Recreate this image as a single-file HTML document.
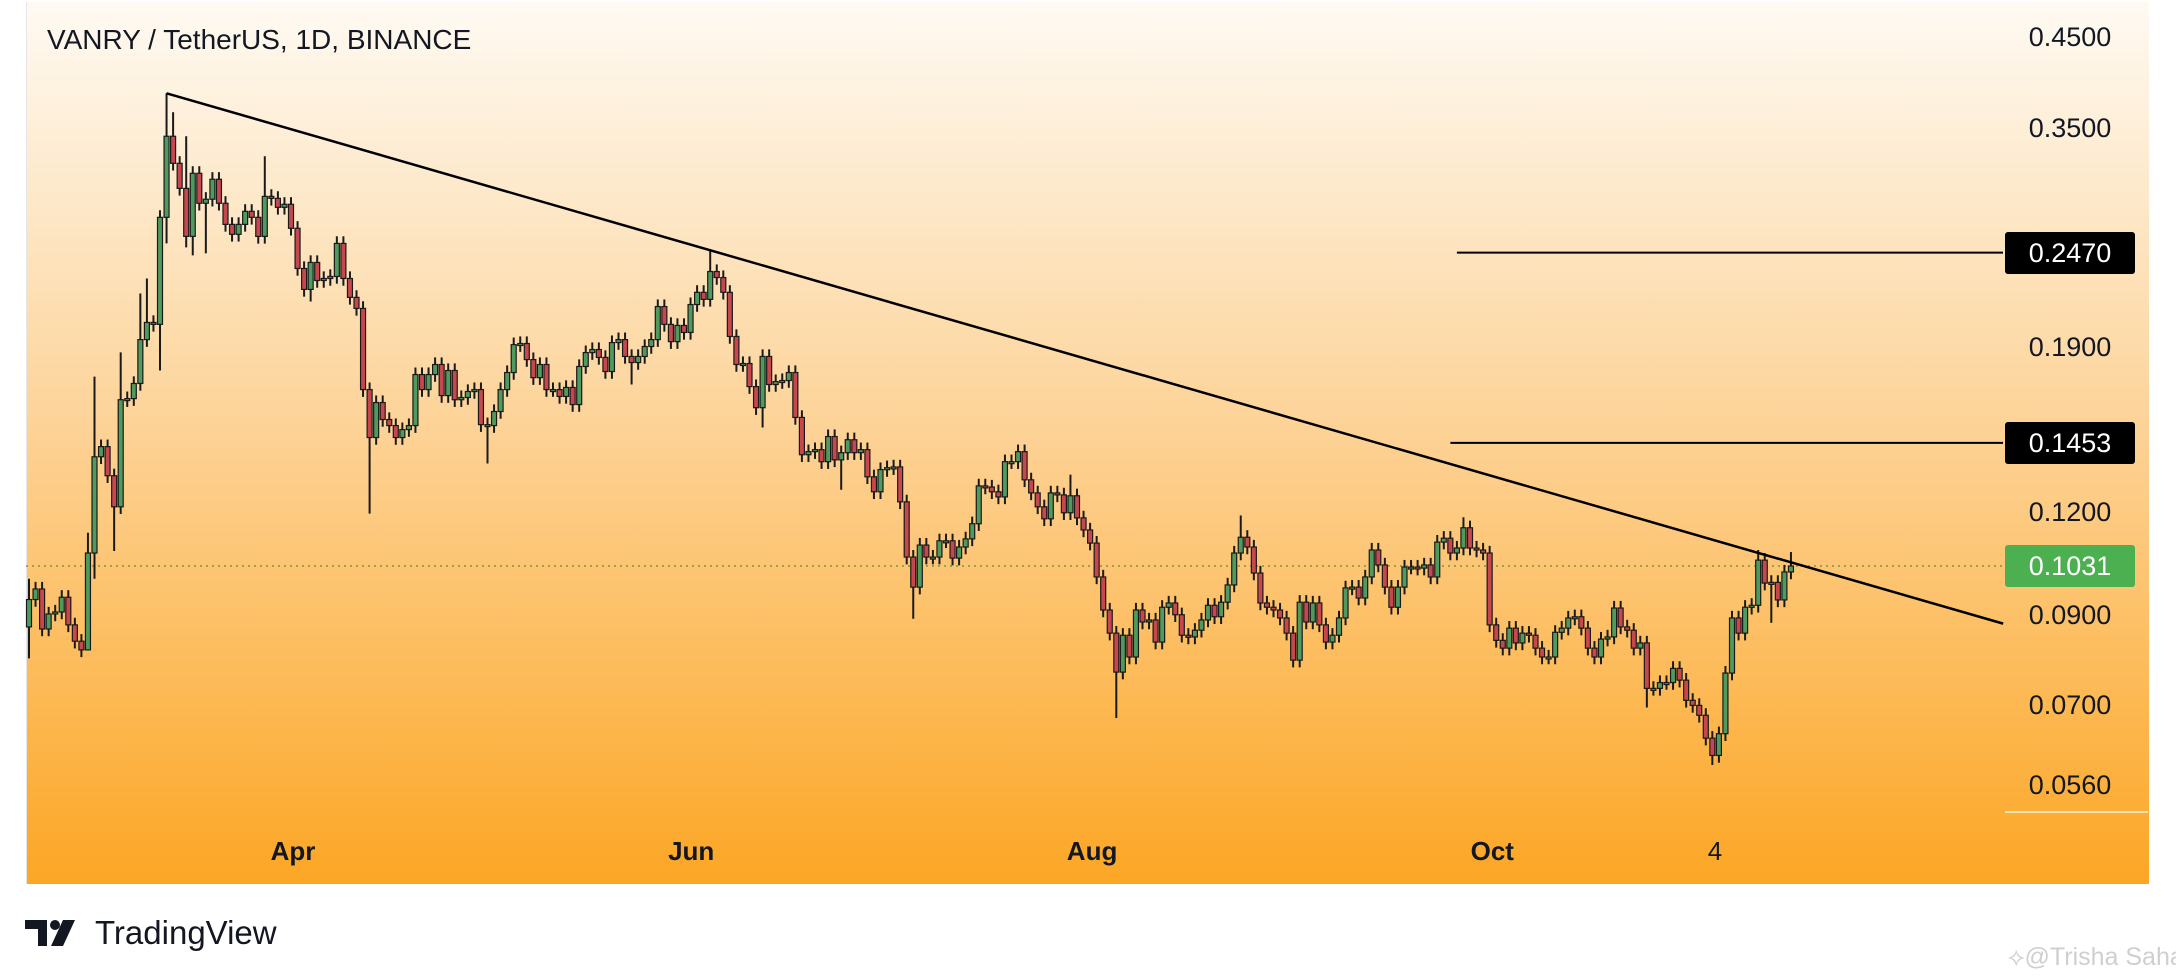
<!DOCTYPE html>
<html><head><meta charset="utf-8">
<style>
html,body{margin:0;padding:0;background:#fff;}
body{width:2176px;height:979px;position:relative;overflow:hidden;font-family:"Liberation Sans",sans-serif;}
#chart-bg{position:absolute;left:26px;top:2px;width:2122px;height:882px;background:linear-gradient(to bottom,#fefaf3 0%,#fde6c4 25%,#fdd193 50%,#fdbc5c 75%,#fca624 100%);border-left:1px solid #e6e6e6;}
svg{position:absolute;left:0;top:0;}
.title{position:absolute;left:47px;top:24px;font-size:28px;color:#131722;}
.plabel{position:absolute;left:2005px;width:130px;height:42px;line-height:42px;text-align:center;font-size:27px;color:#131722;}
.tlabel{position:absolute;top:836px;font-size:26px;font-weight:bold;color:#131722;transform:translateX(-50%);}
.logo{position:absolute;left:25px;top:914px;display:flex;align-items:center;gap:14px;font-size:33px;color:#131722;}
.wm{position:absolute;left:2008px;top:943px;font-size:25px;color:#cfcfcf;white-space:nowrap;}
</style></head>
<body>
<div id="chart-bg"></div>
<svg id="plot" width="2176" height="979"></svg>
<div class="title">VANRY / TetherUS, 1D, BINANCE</div>
<div id="labels"></div>
<div class="logo">
<svg width="56" height="26" viewBox="0 0 56 26" style="position:static"><path d="M0 0h22v26h-9V9H0z" fill="#131722"/><circle cx="30" cy="5" r="5" fill="#131722"/><path d="M38 0h12L38 26H26z" fill="#131722"/></svg>
<span>TradingView</span></div>
<div class="wm">⟡@Trisha Saha</div>
<script>
const closes=[0.0939,0.0967,0.0865,0.0902,0.0907,0.0945,0.0875,0.0836,0.0816,0.1069,
0.1398,0.1438,0.1326,0.1216,0.1639,0.1644,0.1715,0.1938,0.2033,0.2022,
0.2725,0.3416,0.3168,0.2954,0.2584,0.3081,0.2834,0.2866,0.3030,0.2834,
0.2672,0.2599,0.2672,0.2771,0.2725,0.2584,0.2889,0.2873,0.2802,0.2826,
0.2643,0.2363,0.2229,0.2403,0.2285,0.2298,0.2311,0.2534,0.2298,0.2180,
0.2114,0.1686,0.1475,0.1626,0.1551,0.1525,0.1475,0.1508,0.1525,0.1758,
0.1686,0.1758,0.1808,0.1658,0.1778,0.1639,0.1649,0.1677,0.1686,0.1529,
0.1525,0.1586,0.1686,0.1768,0.1911,0.1917,0.1833,0.1743,0.1808,0.1686,
0.1686,0.1654,0.1696,0.1617,0.1798,0.1869,0.1885,0.1844,0.1773,0.1922,
0.1938,0.1849,0.1818,0.1849,0.1901,0.1938,0.2125,0.2022,0.1927,0.2016,
0.1977,0.2137,0.2211,0.2168,0.2343,0.2304,0.2211,0.1955,0.1808,0.1813,
0.1700,0.1603,0.1849,0.1710,0.1724,0.1729,0.1768,0.1560,0.1406,0.1418,
0.1426,0.1379,0.1479,0.1386,0.1414,0.1466,0.1414,0.1426,0.1322,0.1268,
0.1349,0.1356,0.1359,0.1233,0.1057,0.0972,0.1093,0.1057,0.1057,0.1106,
0.1106,0.1054,0.1087,0.1112,0.1160,0.1289,0.1285,0.1268,0.1250,0.1379,
0.1379,0.1418,0.1311,0.1264,0.1216,0.1176,0.1264,0.1257,0.1196,0.1254,
0.1179,0.1140,0.1099,0.1000,0.0912,0.0855,0.0767,0.0850,0.0800,0.0912,
0.0882,0.0887,0.0834,0.0919,0.0930,0.0900,0.0850,0.0846,0.0862,0.0887,
0.0924,0.0895,0.0932,0.0978,0.1069,0.1117,0.1087,0.1011,0.0930,0.0919,
0.0912,0.0892,0.0855,0.0793,0.0932,0.0882,0.0930,0.0875,0.0834,0.0850,
0.0892,0.0970,0.0972,0.0943,0.1000,0.1078,0.1034,0.0972,0.0919,0.0972,
0.1028,0.1028,0.1025,0.1034,0.1000,0.1102,0.1114,0.1069,0.1084,0.1147,
0.1084,0.1078,0.1069,0.0875,0.0838,0.0820,0.0867,0.0832,0.0855,0.0850,
0.0820,0.0800,0.0800,0.0857,0.0867,0.0892,0.0895,0.0867,0.0820,0.0800,
0.0841,0.0846,0.0917,0.0870,0.0862,0.0820,0.0832,0.0733,0.0733,0.0745,
0.0745,0.0775,0.0750,0.0709,0.0699,0.0680,0.0638,0.0608,0.0646,0.0765,
0.0892,0.0855,0.0919,0.0924,0.1048,0.0983,0.0985,0.0938,0.1014,0.1031];
const firstOpen=0.0870;
const wickIdx=[0,9,10,13,14,17,18,20,21,22,24,25,27,36,43,52,70,92,104,112,124,135,159,166,185,219,247,257,264,266,269];
const wickHigh=[0.0995,0.1131,0.1748,null,0.1870,0.2204,0.2298,null,0.3851,0.3653,0.3416,null,null,0.3231,null,null,null,null,0.2479,null,null,null,0.1330,null,0.1187,0.1181,null,null,0.1078,null,0.1072];
const wickLow=[0.0797,0.0816,0.0995,0.1075,null,null,null,0.1778,0.2534,null,0.2506,0.2451,0.2465,null,0.2155,0.1193,0.1372,0.1710,null,0.1517,0.1275,0.0890,null,0.0675,null,null,0.0695,0.0592,null,0.0880,null];
const priceTicks=[0.45,0.35,0.19,0.12,0.09,0.07,0.056];
const priceTickText=["0.4500","0.3500","0.1900","0.1200","0.0900","0.0700","0.0560"];
const levels=[0.2470,0.1453];
const levelStartDay=[218,217];
const lastPrice=0.1031;
const timeLabels=["Apr","Jun","Aug","Oct","4"];
const timeDays=[40.3,101.1,162.3,223.4,257.4];
const trendDays=[21,301.4];
const trendPrices=[0.3851,0.0878];

const X0=29, DX=6.55, PLOT_R=2003;
function x(d){return X0+DX*d;}
function y(p){return 566+(Math.log10(0.1031)-Math.log10(p))*826;}
const NS='http://www.w3.org/2000/svg';
const svg=document.getElementById('plot');
function mk(tag,attrs,parent){const e=document.createElementNS(NS,tag);for(const k in attrs)e.setAttribute(k,attrs[k]);(parent||svg).appendChild(e);return e;}

let ab=mk('line',{x1:2005,x2:2148,y1:812,y2:812,stroke:'#fde4b8','stroke-width':2});



let dl=mk('line',{x1:26,x2:PLOT_R,y1:y(lastPrice),y2:y(lastPrice),stroke:'#6f9a3a','stroke-width':1.5,'stroke-dasharray':'2 4'});



levels.forEach((lv,k)=>{
  const l=mk('line',{x1:x(levelStartDay[k]),x2:PLOT_R,y1:y(lv),y2:y(lv),stroke:'#000','stroke-width':2});
  
  
});

const g=mk('g',{});


for(let i=0;i<closes.length;i++){
  const o=i===0?firstOpen:closes[i-1], c=closes[i];
  const k=wickIdx.indexOf(i);
  let hi=Math.max(o,c)*1.02, lo=Math.min(o,c)*0.98;
  if(k>=0){if(wickHigh[k]!==null)hi=wickHigh[k];if(wickLow[k]!==null)lo=wickLow[k];}
  const cx=x(i);
  const w=mk('line',{x1:cx,x2:cx,y1:y(hi),y2:y(lo),stroke:'#1a1a1a','stroke-width':2},g);
  
  
  const top=y(Math.max(o,c)), bot=y(Math.min(o,c));
  const b=mk('rect',{x:cx-2.5,y:top,width:5,height:Math.max(bot-top,2),fill:c>=o?'#4f9a5e':'#c7474f',stroke:'#1a1a1a','stroke-width':1.2},g);
  
  
}

let tl=mk('line',{x1:x(trendDays[0]),y1:y(trendPrices[0]),x2:x(trendDays[1]),y2:y(trendPrices[1]),stroke:'#000','stroke-width':2.5});



const L=document.getElementById('labels');
priceTicks.forEach((p,k)=>{
  const d=document.createElement('div');d.className='plabel';d.style.top=(y(p)-21)+'px';d.textContent=priceTickText[k];
  
  
  L.appendChild(d);
});
levels.forEach(lv=>{
  const d=document.createElement('div');d.className='plabel';d.style.top=(y(lv)-21)+'px';d.style.background='#000';d.style.color='#fff';d.style.borderRadius='3px';d.textContent=lv.toFixed(4);
  
  
  L.appendChild(d);
});
{
  const d=document.createElement('div');d.className='plabel';d.style.top=(y(lastPrice)-21)+'px';d.style.background='#4caf50';d.style.color='#fff';d.style.borderRadius='3px';d.textContent=lastPrice.toFixed(4);
  
  
  L.appendChild(d);
}
timeLabels.forEach((t,k)=>{
  const d=document.createElement('div');d.className='tlabel';d.style.left=x(timeDays[k])+'px';d.textContent=t;
  if(t==='4')d.style.fontWeight='normal';
  
  
  L.appendChild(d);
});
</script>
</body></html>
